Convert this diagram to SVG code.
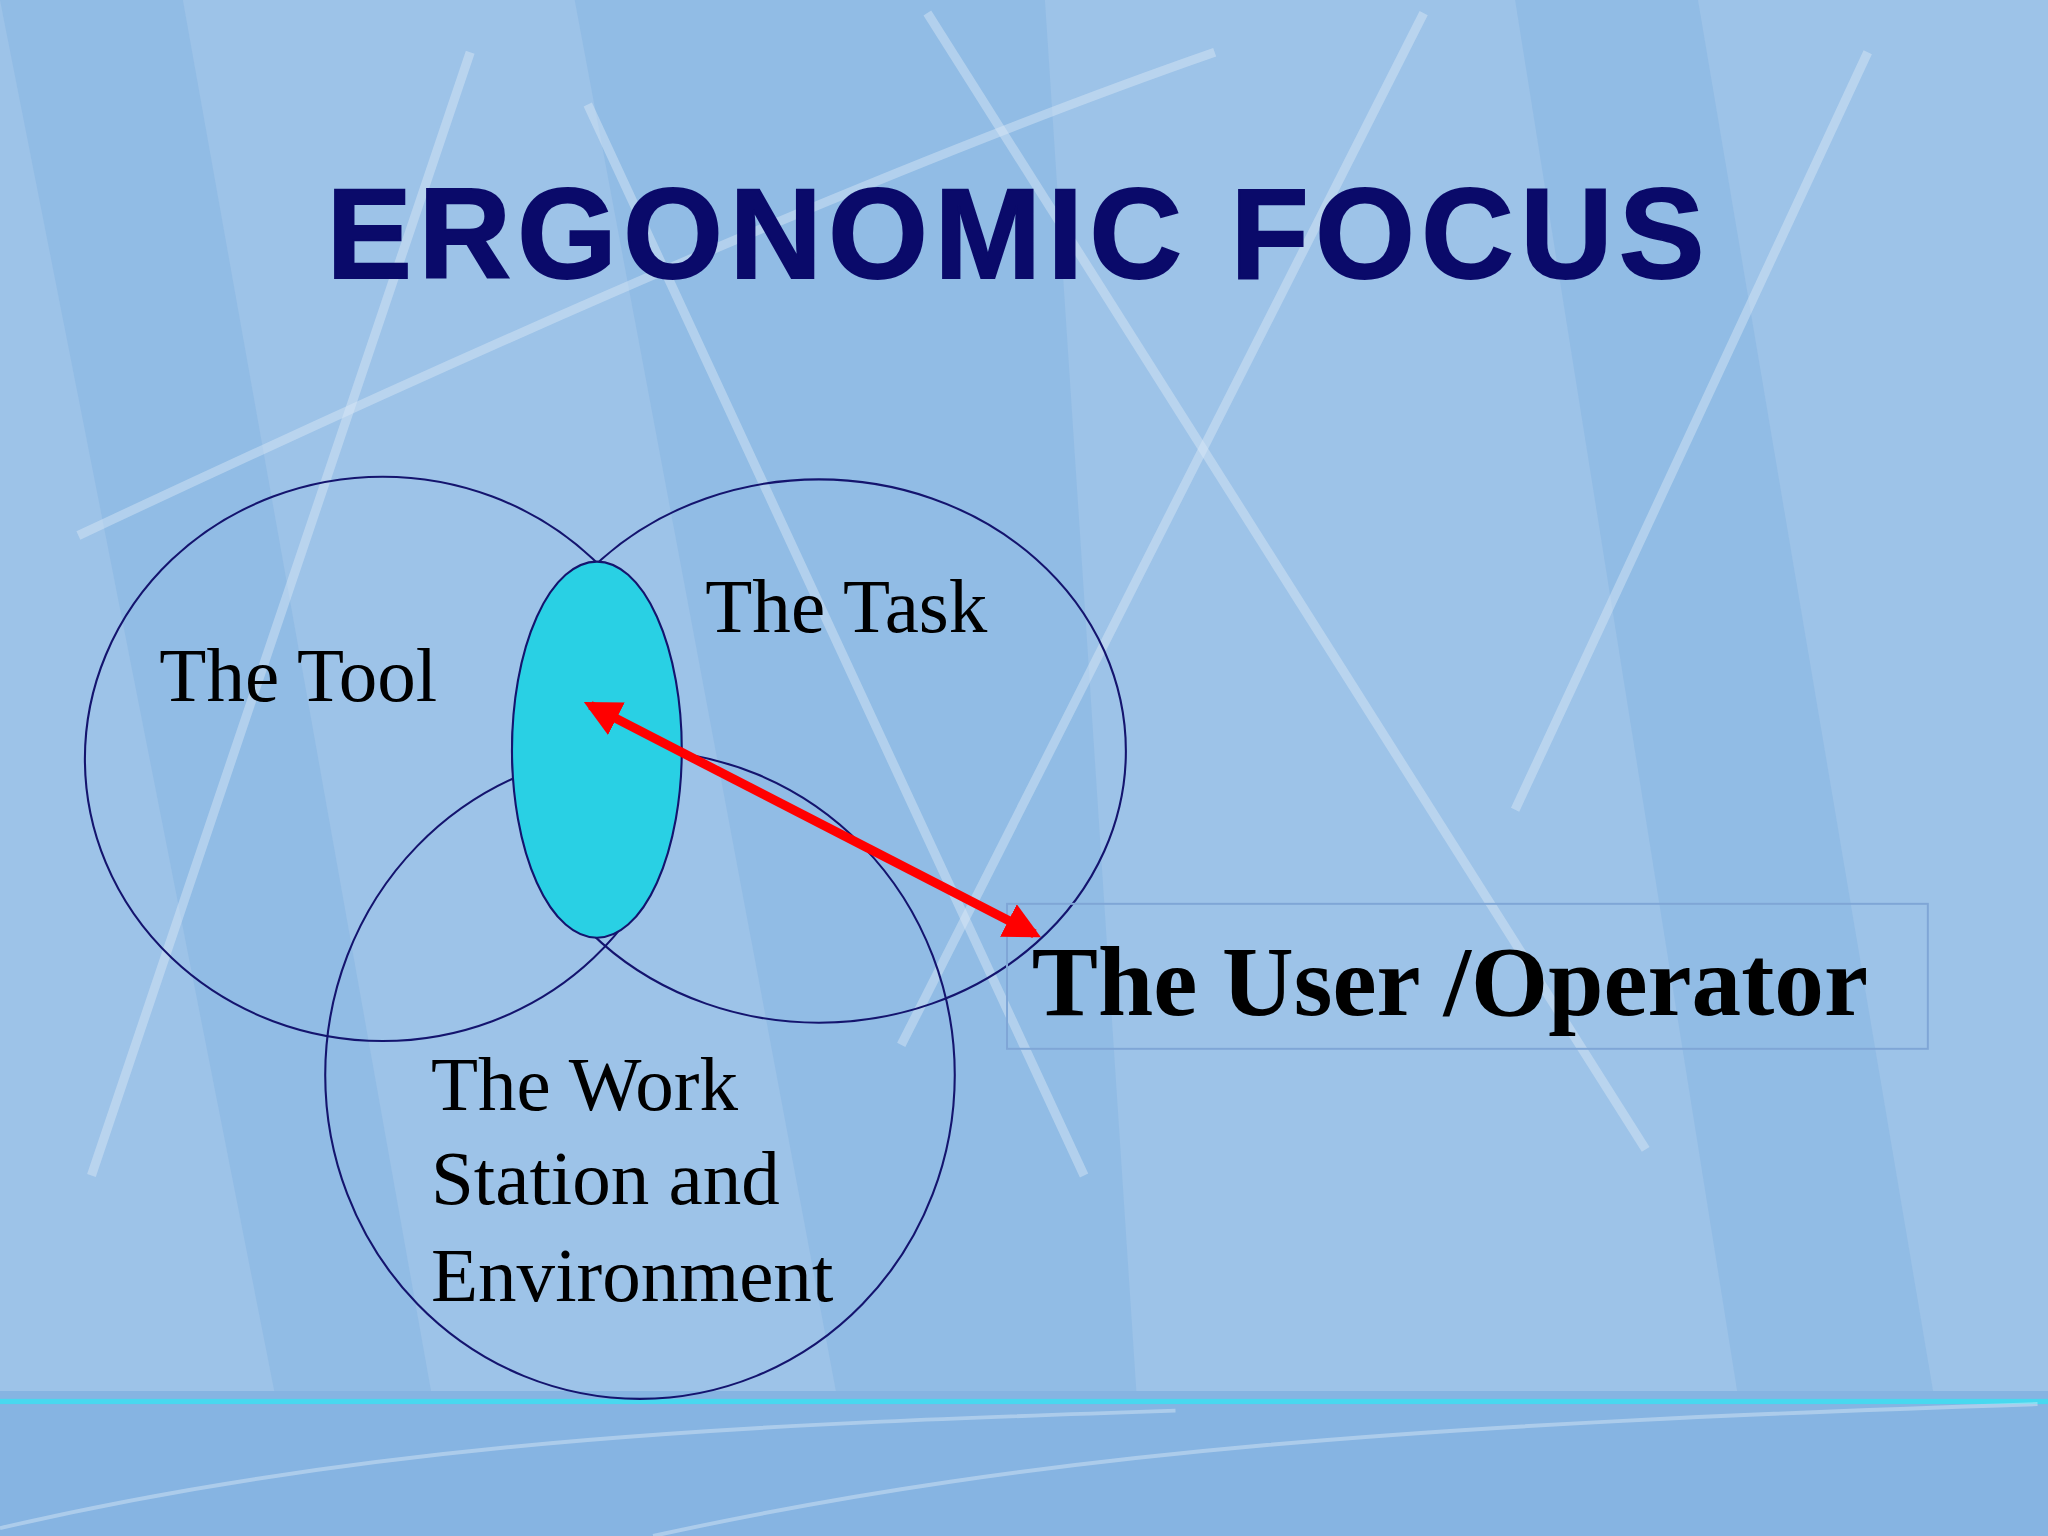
<svg xmlns="http://www.w3.org/2000/svg" width="2048" height="1536" viewBox="0 0 2048 1536">
<style>
.c{fill:none;stroke:#14146e;stroke-width:1.6}
.t{font-family:"Liberation Serif",serif;font-size:59px;fill:#000}
.band{fill:#7aaedf;opacity:0.35}
.ln{stroke:#dbe9f7;stroke-width:7;opacity:0.45;fill:none}
</style>
<defs>
<marker id="ah" viewBox="0 0 10 10" refX="8" refY="5" markerWidth="4" markerHeight="4" orient="auto-start-reverse"><path d="M0,0L10,5L0,10z" fill="#ff0000"/></marker>
</defs>
<g transform="scale(1.30612)">
<g id="background">
<rect width="1568" height="1176" fill="#9dc3e8"/>
<polygon class="band" points="0,0 140,0 330,1065 210,1065"/>
<polygon class="band" points="440,0 800,0 870,1065 640,1065"/>
<polygon class="band" points="1160,0 1300,0 1480,1065 1330,1065"/>
<path class="ln" d="M60,410 C400,250 700,120 930,40"/>
<path class="ln" d="M710,10 L1260,880"/>
<path class="ln" d="M1090,10 L690,800"/>
<path class="ln" d="M1430,40 L1160,620"/>
<path class="ln" d="M360,40 L70,900"/>
<path class="ln" d="M450,80 L830,900"/>
<rect y="1065" width="1568" height="111" fill="#86b4e2"/>
<rect y="1071" width="1568" height="4" fill="#48d8ef"/>
<path class="ln" d="M0,1170 C300,1100 600,1090 900,1080" style="stroke-width:3"/>
<path class="ln" d="M500,1176 C800,1110 1100,1090 1560,1075" style="stroke-width:3"/>
</g>
<g id="title"><text x="250" y="213" font-family="Liberation Sans,Arial,sans-serif" font-weight="bold" font-size="98" fill="#0a0a6a" stroke="#0a0a6a" stroke-width="1.5" textLength="1055">ERGONOMIC FOCUS</text></g>
<g id="tool"><ellipse class="c" cx="293" cy="581" rx="228" ry="216"/><text class="t" x="122" y="537">The Tool</text></g>
<g id="task"><ellipse class="c" cx="627" cy="575" rx="235" ry="208"/><text class="t" x="540" y="484">The Task</text></g>
<g id="work"><ellipse class="c" cx="490" cy="823" rx="241" ry="248"/>
<text class="t" x="330" y="850">The Work</text><text class="t" x="330" y="922">Station and</text><text class="t" x="330" y="996">Environment</text></g>
<g id="center"><ellipse cx="457" cy="574" rx="65" ry="144" fill="#29d0e4" stroke="#14146e" stroke-width="1.6"/></g>
<g id="user"><rect x="771" y="692" width="705" height="111" fill="none" stroke="#7fa6d6" stroke-width="1.5"/>
<text x="790" y="777" font-family="Liberation Serif,serif" font-weight="bold" font-size="76" fill="#000">The User /Operator</text></g>
<g id="connectors"><line x1="452" y1="540" x2="792" y2="715" stroke="#ff0000" stroke-width="7" marker-start="url(#ah)" marker-end="url(#ah)"/></g>
</g>
</svg>
